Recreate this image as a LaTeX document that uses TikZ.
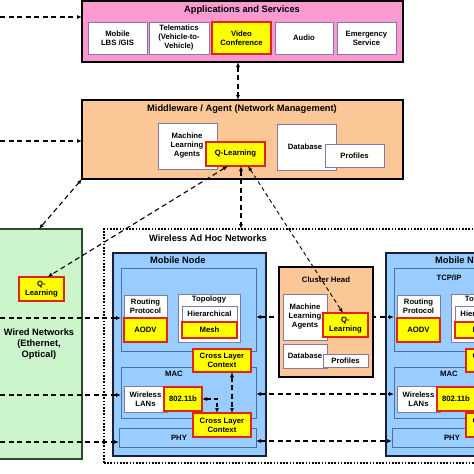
\documentclass[tikz,border=0pt]{standalone}
\usepackage{fontspec}
\setmainfont{Liberation Sans}
\usetikzlibrary{arrows.meta}
\definecolor{pinkf}{HTML}{F99BD0}
\definecolor{peach}{HTML}{FBC797}
\definecolor{greenf}{HTML}{CCF5CC}
\definecolor{bluef}{HTML}{99CCFF}
\definecolor{subd}{HTML}{8478A8}
\definecolor{hlred}{HTML}{E02418}
\definecolor{hlyel}{HTML}{FFFF00}
\definecolor{innerd}{HTML}{4F6E9C}
\definecolor{grd}{HTML}{2E4A2E}
\definecolor{nodeb}{HTML}{1A1F3A}
\newcommand\smallbf{\bfseries\fontsize{7.7}{9}\selectfont}
\newcommand\titlebf{\bfseries\fontsize{9.3}{11}\selectfont}
\newcommand\bx[7]{\node[#6, minimum width={#4-#2}, minimum height={#5-#3}] (#1) at ({(#2+#4)/2},{(#3+#5)/2}) {#7};}
\begin{document}
\begin{tikzpicture}[x=1pt,y=-1pt,
 box/.style={rectangle, inner sep=0pt, outer sep=0pt, align=center, font=\smallbf},
 outerbox/.style={box, draw=black, line width=1.5pt},
 sub/.style={box, fill=white, draw=subd, line width=0.8pt},
 hl/.style={box, fill=hlyel, draw=hlred, line width=1.3pt},
 mnode/.style={box, fill=bluef, draw=nodeb, line width=1.3pt},
 layer/.style={box, fill=bluef, draw=innerd, line width=0.8pt},
 lbl/.style={inner sep=0pt, font=\smallbf, align=center},
 ttl/.style={inner sep=0pt, font=\titlebf, align=center},
 arr/.style={-{Latex[length=5pt,width=4pt]}, line width=1.1pt, dash pattern=on 5pt off 3.5pt},
 darr/.style={arr, {Latex[length=5pt,width=4pt]}-{Latex[length=5pt,width=4pt]}},
]
\useasboundingbox (0,0) rectangle (474,474);
\fill[white] (0,0) rectangle (474,474);
\clip (0,0) rectangle (474,474);

% Applications and Services
\bx{apps}{82}{1}{403}{62}{outerbox, fill=pinkf}{}
\node[ttl] (appst) at (242,10) {Applications and Services};
\bx{a1}{88}{22}{147}{54}{sub}{Mobile\\LBS /GIS}
\bx{a2}{149}{22}{209}{54}{sub}{Telematics\\(Vehicle-to-\\Vehicle)}
\bx{a3}{212}{22}{271}{54}{hl}{Video\\Conference}
\bx{a4}{275}{22}{333}{54}{sub}{Audio}
\bx{a5}{337}{22}{396}{54}{sub}{Emergency\\Service}

% Middleware
\bx{mw}{82}{100}{403}{179}{outerbox, fill=peach}{}
\node[ttl] (mwt) at (242,109) {Middleware / Agent (Network Management)};
\bx{mla}{158}{123}{217}{169}{sub}{}
\node[lbl] (mlat) at (187,146) {Machine\\Learning\\Agents};
\bx{mwq}{206}{142}{265}{166}{hl}{Q-Learning}
\bx{mdb}{277}{124}{336}{170}{sub}{}
\node[lbl] (mdbt) at (305,147) {Database};
\bx{mprof}{325}{144}{384}{167}{sub}{Profiles}

% Wired networks
\bx{wired}{-5}{229}{82}{459}{box, fill=greenf, draw=grd, line width=1.2pt}{}
\node[ttl] (wiredt) at (39,344) {Wired Networks\\(Ethernet,\\Optical)};
\bx{wq}{19}{277}{64}{301}{hl}{Q-\\Learning}

% Wireless ad hoc networks
\bx{wadhoc}{104}{229}{490}{463}{box, draw=black, line width=1.1pt, dash pattern=on 1.6pt off 1.6pt}{}
\node[ttl] (wadhoct) at (208,238) {Wireless Ad Hoc Networks};

% Left mobile node
\bx{lnode}{113}{253}{266}{456}{mnode}{}
\node[ttl, anchor=west] (lnodet) at (150,260) {Mobile Node};
\bx{ltcp}{121}{268}{256}{351}{layer}{}
\bx{lrp}{124}{295}{167}{318}{sub}{Routing\\Protocol}
\bx{laodv}{124}{318}{167}{342}{hl}{AODV}
\bx{ltop}{178}{294}{240}{342}{sub}{}
\node[lbl] (ltopt) at (209,299.5) {Topology};
\bx{lhier}{182}{306}{237}{321}{sub}{Hierarchical}
\bx{lmesh}{182}{322}{237}{338}{hl}{Mesh}
\bx{lmac}{121}{367}{256}{418}{layer}{}
\node[lbl] (lmact) at (174,374) {MAC};
\bx{lwlan}{124}{386}{167}{412}{sub}{Wireless\\LANs}
\bx{l80211}{164}{387}{202}{411}{hl}{802.11b}
\bx{lphy}{119}{428}{256}{447}{layer}{}
\node[lbl] (lphyt) at (179,438) {PHY};
\bx{lclc1}{193}{349}{251}{372}{hl}{Cross Layer\\Context}
\bx{lclc2}{193}{413}{251}{437}{hl}{Cross Layer\\Context}

% Right mobile node
\bx{rnode}{386}{253}{540}{456}{mnode}{}
\node[ttl, anchor=west] (rnodet) at (435,260) {Mobile Node};
\bx{rtcp}{394}{268}{529}{351}{layer}{}
\node[lbl] (rtcpt) at (449,278) {TCP/IP};
\bx{rrp}{397}{295}{440}{318}{sub}{Routing\\Protocol}
\bx{raodv}{397}{318}{440}{342}{hl}{AODV}
\bx{rtop}{451}{294}{513}{342}{sub}{}
\node[lbl] (rtopt) at (482,299.5) {Topology};
\bx{rhier}{455}{306}{510}{321}{sub}{Hierarchical}
\bx{rmesh}{455}{322}{510}{338}{hl}{Mesh}
\bx{rmac}{394}{367}{529}{418}{layer}{}
\node[lbl] (rmact) at (449,374) {MAC};
\bx{rwlan}{397}{386}{440}{412}{sub}{Wireless\\LANs}
\bx{r80211}{437}{387}{475}{411}{hl}{802.11b}
\bx{rphy}{392}{428}{529}{447}{layer}{}
\node[lbl] (rphyt) at (452,438) {PHY};
\bx{rclc1}{466}{349}{524}{372}{hl}{Cross Layer\\Context}
\bx{rclc2}{466}{413}{524}{437}{hl}{Cross Layer\\Context}

% arrows between mobile nodes (behind cluster head)
\coordinate (h1) at (0,317);
\coordinate (h2) at (0,394);
\coordinate (h3) at (0,441);
\draw[darr] (ltcp.east |- h1) -- (rtcp.west |- h1);
\draw[darr] (lmac.east |- h2) -- (rmac.west |- h2);
\draw[darr] (lphy.east |- h3) -- (rphy.west |- h3);

% Cluster head
\bx{ch}{279}{267}{373}{377}{outerbox, fill=peach}{}
\node[lbl, font=\bfseries\fontsize{7.8}{9}\selectfont] (cht) at (326,280) {Cluster Head};
\bx{cmla}{283}{294}{327}{340}{sub}{Machine\\Learning\\Agents}
\bx{cq}{323}{313}{368}{337}{hl}{Q-\\Learning}
\bx{cdb}{283}{344}{327}{368}{sub}{Database}
\bx{cprof}{323}{354}{368}{367}{sub}{Profiles}

% arrows from the left edge
\coordinate (e0) at (0,17);
\coordinate (e1) at (0,141);
\coordinate (e2) at (0,318);
\coordinate (e3) at (0,395);
\coordinate (e4) at (0,442);
\draw[arr] (e0) -- (apps.west |- e0);
\draw[arr] (e1) -- (mw.west |- e1);
\draw[arr] (e2) -- (ltcp.west |- e2);
\draw[arr] (e3) -- (lmac.west |- e3);
\draw[arr] (e4) -- (lphy.west |- e4);

% vertical and diagonal arrows
\draw[darr] (apps.south -| 238,0) -- (mw.north -| 238,0);
\draw[darr] (mw.south west) -- ([xshift=0.5pt]wired.north);
\coordinate (m1) at ([xshift=-7.5pt]mwq.south);
\coordinate (m2) at ([xshift=5.5pt]mwq.south);
\coordinate (m3) at ([xshift=12.5pt]mwq.south);
\draw[darr] (m1) -- ([xshift=6pt]wq.north);
\draw[darr] (m2) -- (m2 |- wadhoc.north);
\draw[darr, dash pattern=on 4pt off 3pt, line width=0.9pt] (m3) -- ([xshift=-2.5pt]cq.north);

% cross-layer arrows inside left node
\coordinate (c10) at ([xshift=-5pt]lclc2.north);
\draw[darr, dash pattern=on 4pt off 3pt] (l80211.east) -| (c10);
\draw[darr] ([xshift=10pt]lclc1.south) -- ([xshift=10pt]lclc2.north);
\end{tikzpicture}
\end{document}
